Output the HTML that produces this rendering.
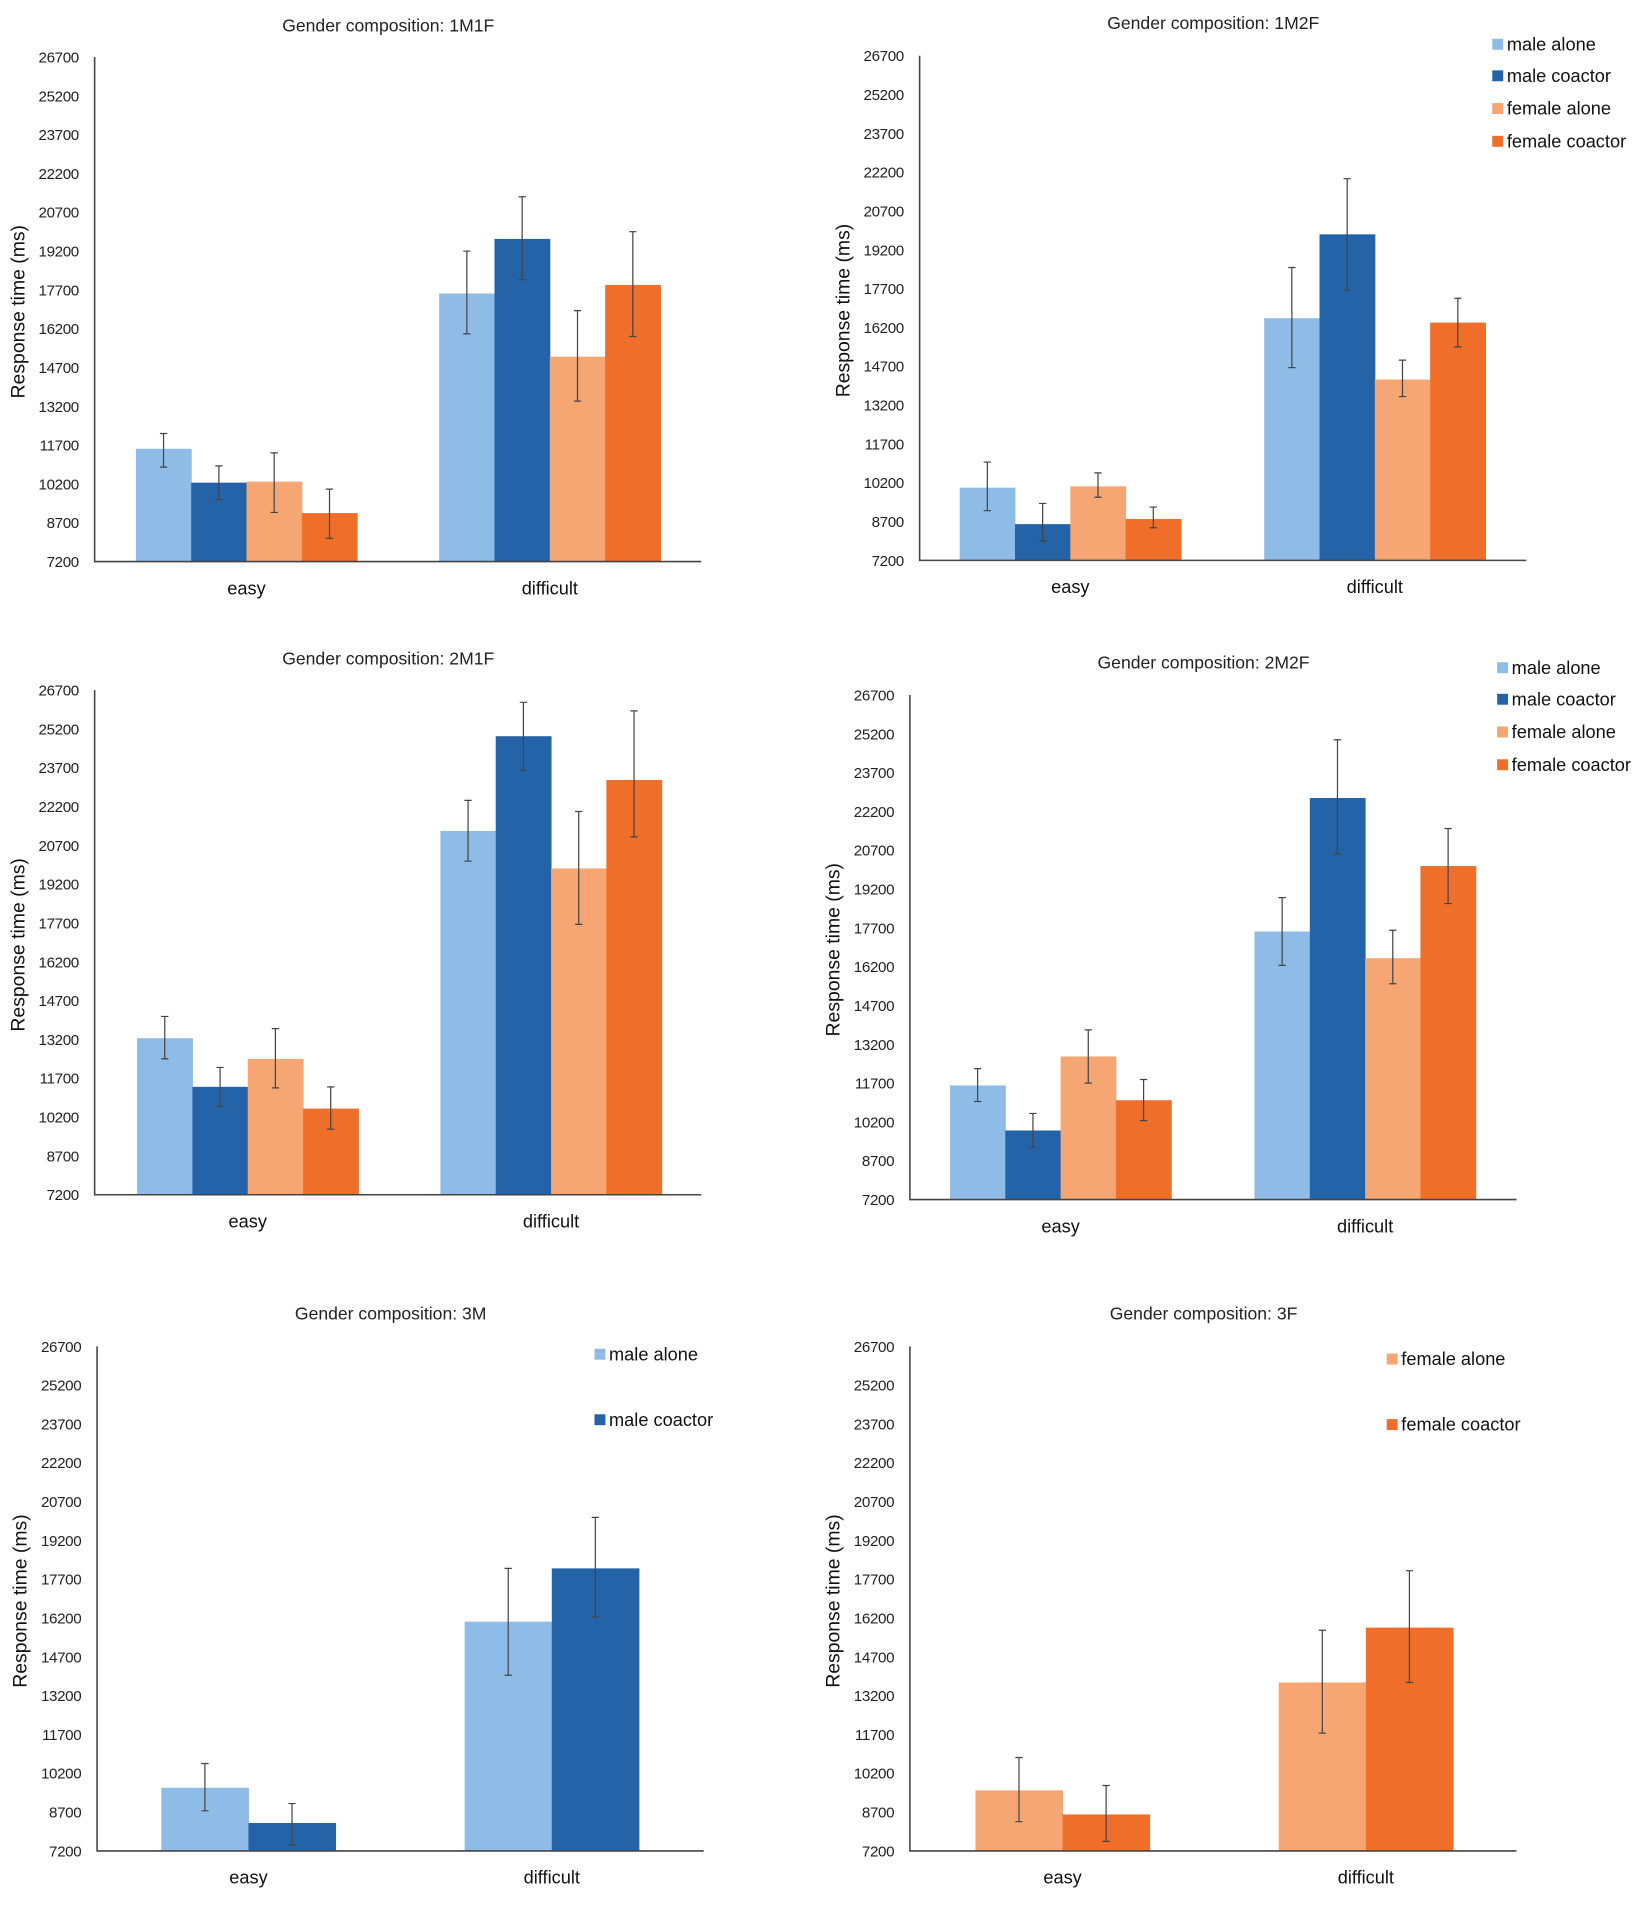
<!DOCTYPE html>
<html><head><meta charset="utf-8"><style>
html,body{margin:0;padding:0;background:#fff;}
svg{display:block;font-family:"Liberation Sans",sans-serif;}
</style></head><body>
<svg id="fig" width="1650" height="1914" viewBox="0 0 1360 1578" preserveAspectRatio="none" xmlns="http://www.w3.org/2000/svg"></svg>
<script>
const seriesNames = ["male alone","male coactor","female alone","female coactor"];
const colors = ["#8FBCE6","#2563A8","#F5A673","#EE6E2A"];
const categories = ["easy","difficult"];
const yTicks = [7200,8700,10200,11700,13200,14700,16200,17700,19200,20700,22200,23700,25200,26700];

const v1M1F = [[11560,10250,10290,9075],[17560,19670,15120,17890]];
const e1M1F = [[[12150,10850],[10900,9600],[11400,9100],[10000,8100]],[[19200,16000],[21300,18100],[16900,13400],[19950,15900]]];
const v1M2F = [[10010,8600,10060,8800],[16560,19800,14190,16390]];
const e1M2F = [[[11000,9120],[9400,7950],[10580,9640],[9260,8460]],[[18520,14650],[21950,17650],[14940,13530],[17330,15450]]];
const v2M1F = [[13250,11370,12450,10530],[21260,24920,19810,23230]];
const e2M1F = [[[14090,12450],[12120,10620],[13620,11330],[11370,9730]],[[22440,20090],[26230,23600],[22010,17650],[25900,21030]]];
const v2M2F = [[11610,9870,12730,11040],[17560,22720,16530,20090]];
const e2M2F = [[[12260,10990],[10530,9220],[13760,11700],[11840,10250]],[[18870,16250],[24970,20560],[17610,15540],[21540,18640]]];
const v3M = [[9640,8280],[16060,18120]];
const e3M = [[[10580,8750],[9030,7430]],[[18120,13990],[20090,16250]]];
const v3F = [[9540,8610],[13710,15830]];
const e3F = [[[10810,8330],[9730,7570]],[[15730,11750],[18030,13710]]];

const NS="http://www.w3.org/2000/svg";
const svg=document.getElementById('fig');
function mk(tag,attrs,parent,text){const e=document.createElementNS(NS,tag);for(const k in attrs)e.setAttribute(k,attrs[k]);if(text!==undefined)e.textContent=text;(parent||svg).appendChild(e);return e;}

const charts=[
 {id:"1m1f",title:"Gender composition: 1M1F",ax:78,top:47,bot:463,right:578,tx:320,ty:26,vals:v1M1F,errs:e1M1F,ser:[0,1,2,3],groups:[112,362],bw:45.6,legend:null},
 {id:"1m2f",title:"Gender composition: 1M2F",ax:758,top:46,bot:462,right:1258,tx:1000,ty:24,vals:v1M2F,errs:e1M2F,ser:[0,1,2,3],groups:[791,1042],bw:45.6,legend:{x:1230,ys:[41,67,94,121]}},
 {id:"2m1f",title:"Gender composition: 2M1F",ax:78,top:569,bot:985,right:578,tx:320,ty:548,vals:v2M1F,errs:e2M1F,ser:[0,1,2,3],groups:[113,363],bw:45.6,legend:null},
 {id:"2m2f",title:"Gender composition: 2M2F",ax:750,top:573,bot:989,right:1250,tx:992,ty:551,vals:v2M2F,errs:e2M2F,ser:[0,1,2,3],groups:[783,1034],bw:45.6,legend:{x:1234,ys:[555,581,608,635]}},
 {id:"3m",title:"Gender composition: 3M",ax:80,top:1110,bot:1526,right:580,tx:322,ty:1088,vals:v3M,errs:e3M,ser:[0,1],groups:[133,383],bw:71.8,legend:{x:490,ys:[1121,1175]}},
 {id:"3f",title:"Gender composition: 3F",ax:750,top:1110,bot:1526,right:1250,tx:992,ty:1088,vals:v3F,errs:e3F,ser:[2,3],groups:[804,1054],bw:71.8,legend:{x:1143,ys:[1125,1179]}}
];

charts.forEach(c=>{
 const g=mk('g',{});
 
 
 const y=v=>c.bot-(v-7200)/(26700-7200)*(c.bot-c.top);
 const t=mk('text',{x:c.tx,y:c.ty,'text-anchor':'middle','font-size':14.5,fill:'#222'},g,c.title);
 
 
 yTicks.forEach(v=>{
  const tl=mk('text',{x:c.ax-13,y:y(v)+4.5,'text-anchor':'end','font-size':12.5,fill:'#222','letter-spacing':'-0.3'},g,String(v));
  
  
 });
 const yt=mk('text',{x:0,y:0,'text-anchor':'middle','font-size':16,fill:'#111',transform:`translate(${c.ax-58},${(c.top+c.bot)/2+2}) rotate(-90)`},g,'Response time (ms)');
 
 
 const n=c.ser.length;
 categories.forEach((cat,ci)=>{
  c.ser.forEach((si,k)=>{
   const x0=c.groups[ci]+k*c.bw;
   const v=c.vals[ci][k];
   const r=mk('rect',{x:x0,y:y(v),width:c.bw+0.4,height:c.bot-y(v),fill:colors[si]},g);
   
   
   const [hi,lo]=c.errs[ci][k];
   const cx=x0+c.bw/2;
   const eb=mk('path',{d:`M${cx},${y(hi)}V${y(lo)}M${cx-3},${y(hi)}H${cx+3}M${cx-3},${y(lo)}H${cx+3}`,stroke:'#444','stroke-width':1,fill:'none'},g);
   
   
  });
  const cl=mk('text',{x:c.groups[ci]+n*c.bw/2,y:c.bot+27,'text-anchor':'middle','font-size':15,fill:'#111'},g,cat);
  
  
 });
 const axes=mk('path',{d:`M${c.ax},${c.top}V${c.bot}H${c.right}`,stroke:'#444','stroke-width':1.3,fill:'none'},g);
 
 
 if(c.legend){
  c.ser.forEach((si,k)=>{
   const ly=c.legend.ys[k];
   const sq=mk('rect',{x:c.legend.x,y:ly-9,width:9,height:9,fill:colors[si]},g);
   
   
   const lt=mk('text',{x:c.legend.x+12,y:ly+0.5,'font-size':15,fill:'#111'},g,seriesNames[si]);
   
   
  });
 }
});
</script>
</body></html>
